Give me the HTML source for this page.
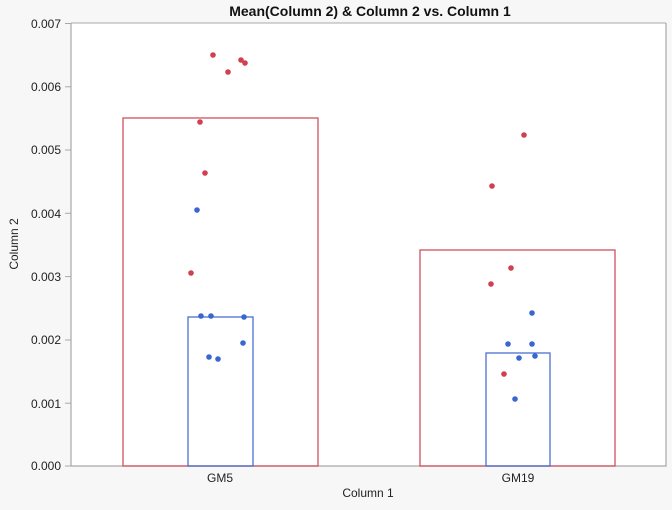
<!DOCTYPE html>
<html><head><style>body{margin:0;background:#f7f7f7}</style></head><body>
<svg width="672" height="505" xmlns="http://www.w3.org/2000/svg" font-family="Liberation Sans, sans-serif">
<rect width="672" height="505" fill="#f7f7f7"/>
<rect x="71" y="23" width="595" height="443" fill="#fff"/>
<path d="M71,23V466H666V23" fill="none" stroke="#a8a8a8" stroke-width="1.2"/>
<line x1="71" y1="23" x2="666" y2="23" stroke="#a8a8a8"/>
<g stroke="#a8a8a8"><line x1="65" x2="71" y1="23.5" y2="23.5"/><line x1="65" x2="71" y1="86.8" y2="86.8"/><line x1="65" x2="71" y1="150" y2="150"/><line x1="65" x2="71" y1="213.3" y2="213.3"/><line x1="65" x2="71" y1="276.6" y2="276.6"/><line x1="65" x2="71" y1="340" y2="340"/><line x1="65" x2="71" y1="403.2" y2="403.2"/><line x1="65" x2="71" y1="466" y2="466"/></g>
<g font-size="12" fill="#222" text-anchor="end"><text x="61" y="28">0.007</text><text x="61" y="91">0.006</text><text x="61" y="154">0.005</text><text x="61" y="218">0.004</text><text x="61" y="281">0.003</text><text x="61" y="344">0.002</text><text x="61" y="408">0.001</text><text x="61" y="470">0.000</text></g>
<g fill="none" stroke-width="1.3"><rect x="123" y="118" width="195" height="348" stroke="#d05060"/><rect x="188" y="317" width="65" height="149" stroke="#4a6fd0"/><rect x="420" y="250" width="195" height="216" stroke="#d05060"/><rect x="486" y="353" width="64" height="113" stroke="#4a6fd0"/></g>
<g fill="#d04050"><circle cx="213" cy="55" r="2.8"/><circle cx="241" cy="60" r="2.8"/><circle cx="245" cy="63" r="2.8"/><circle cx="228" cy="72" r="2.8"/><circle cx="200" cy="122" r="2.8"/><circle cx="205" cy="173" r="2.8"/><circle cx="191" cy="273" r="2.8"/><circle cx="524" cy="135" r="2.8"/><circle cx="492" cy="186" r="2.8"/><circle cx="511" cy="268" r="2.8"/><circle cx="491" cy="284" r="2.8"/><circle cx="504" cy="374" r="2.8"/></g>
<g fill="#3a66d0"><circle cx="197" cy="210" r="2.8"/><circle cx="201" cy="316" r="2.8"/><circle cx="211" cy="316" r="2.8"/><circle cx="244" cy="317" r="2.8"/><circle cx="243" cy="343" r="2.8"/><circle cx="209" cy="357" r="2.8"/><circle cx="218" cy="359" r="2.8"/><circle cx="532" cy="313" r="2.8"/><circle cx="508" cy="344" r="2.8"/><circle cx="532" cy="344" r="2.8"/><circle cx="519" cy="358" r="2.8"/><circle cx="535" cy="356" r="2.8"/><circle cx="515" cy="399" r="2.8"/></g>
<g font-size="12" fill="#222" text-anchor="middle"><text x="220" y="482">GM5</text><text x="518" y="482">GM19</text><text x="368" y="497">Column 1</text></g>
<text x="18" y="244" font-size="12" fill="#222" text-anchor="middle" transform="rotate(-90 18 244)">Column 2</text>
<text x="370" y="16" font-size="14" font-weight="bold" fill="#111" text-anchor="middle">Mean(Column 2) &amp; Column 2 vs. Column 1</text>
</svg>
</body></html>
